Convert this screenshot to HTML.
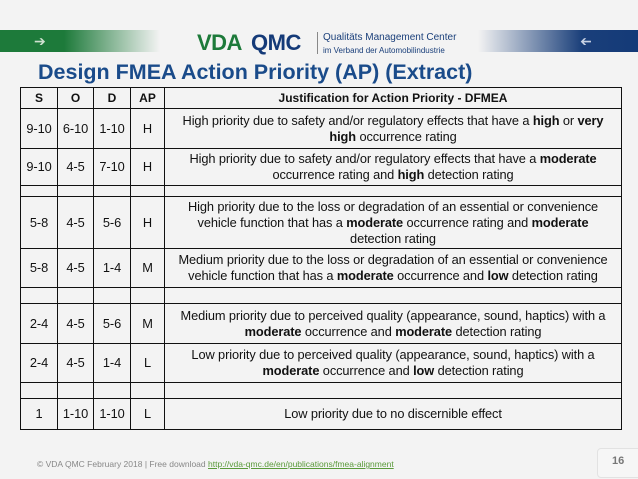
<!DOCTYPE html>
<html><head><meta charset="utf-8"><style>
body{margin:0;width:638px;height:479px;background:#f3f3f3;position:relative;overflow:hidden;font-family:"Liberation Sans",sans-serif}
.abs{position:absolute}
table{position:absolute;left:20px;top:87px;border-collapse:collapse;font-size:12.8px;color:#111;table-layout:fixed}
td{border:1px solid #111;text-align:center;padding:0 1px;line-height:16px;overflow:hidden;white-space:nowrap;letter-spacing:-0.1px}
th{border:1px solid #111;font-weight:bold;font-size:12px;height:20px;padding:0}
</style></head><body>
<div class="abs" style="left:0;top:30px;width:160px;height:22px;background:linear-gradient(90deg,#1d7a3a 0%,#1d7a3a 40%,#f3f3f3 100%)"></div>
<div class="abs" style="left:478px;top:30px;width:160px;height:22px;background:linear-gradient(90deg,#f3f3f3 0%,#1a3f7a 65%,#143a78 100%)"></div>
<div class="abs" style="left:34px;top:33px;color:#cfe0cf;font-size:14px">➔</div>
<div class="abs" style="left:580px;top:33px;color:#c8d2e4;font-size:14px;transform:scaleX(-1)">➔</div>
<div class="abs" style="left:197px;top:30px;font-weight:bold;font-size:22px;color:#1d7a3a;letter-spacing:-0.5px">VDA</div>
<div class="abs" style="left:251px;top:30px;font-weight:bold;font-size:22px;color:#143a78;letter-spacing:-0.5px">QMC</div>
<div class="abs" style="left:317px;top:32px;width:1px;height:22px;background:#888"></div>
<div class="abs" style="left:323px;top:31px;font-size:10px;color:#1a3f7a;line-height:13px">Qualitäts Management Center<br><span style="font-size:8px">im Verband der Automobilindustrie</span></div>
<div class="abs" style="left:38px;top:60px;font-size:21.5px;font-weight:bold;color:#1a4b8a">Design FMEA Action Priority (AP) (Extract)</div>
<table>
<colgroup><col style="width:37px"><col style="width:36px"><col style="width:37px"><col style="width:34px"><col style="width:457px"></colgroup>
<tr><th>S</th><th>O</th><th>D</th><th>AP</th><th>Justification for Action Priority - DFMEA</th></tr>
<tr style="height:40px"><td>9-10</td><td>6-10</td><td>1-10</td><td>H</td><td>High priority due to safety and/or regulatory effects that have a <b>high</b> or <b>very</b><br><b>high</b> occurrence rating</td></tr>
<tr style="height:37px"><td>9-10</td><td>4-5</td><td>7-10</td><td>H</td><td>High priority due to safety and/or regulatory effects that have a <b>moderate</b><br>occurrence rating and <b>high</b> detection rating</td></tr>
<tr style="height:11px"><td></td><td></td><td></td><td></td><td></td></tr>
<tr style="height:52px"><td>5-8</td><td>4-5</td><td>5-6</td><td>H</td><td>High priority due to the loss or degradation of an essential or convenience<br>vehicle function that has a <b>moderate</b> occurrence rating and <b>moderate</b><br>detection rating</td></tr>
<tr style="height:39px"><td>5-8</td><td>4-5</td><td>1-4</td><td>M</td><td>Medium priority due to the loss or degradation of an essential or convenience<br>vehicle function that has a <b>moderate</b> occurrence and <b>low</b> detection rating</td></tr>
<tr style="height:16px"><td></td><td></td><td></td><td></td><td></td></tr>
<tr style="height:40px"><td>2-4</td><td>4-5</td><td>5-6</td><td>M</td><td>Medium priority due to perceived quality (appearance, sound, haptics) with a<br><b>moderate</b> occurrence and <b>moderate</b> detection rating</td></tr>
<tr style="height:39px"><td>2-4</td><td>4-5</td><td>1-4</td><td>L</td><td>Low priority due to perceived quality (appearance, sound, haptics) with a<br><b>moderate</b> occurrence and <b>low</b> detection rating</td></tr>
<tr style="height:16px"><td></td><td></td><td></td><td></td><td></td></tr>
<tr style="height:31px"><td>1</td><td>1-10</td><td>1-10</td><td>L</td><td>Low priority due to no discernible effect</td></tr>
</table>
<div class="abs" style="left:37px;top:459px;font-size:8.5px;color:#888">© VDA QMC February 2018 | Free download <a style="color:#5a9a3a;text-decoration:underline">http://vda-qmc.de/en/publications/fmea-alignment</a></div>
<div class="abs" style="left:597px;top:448px;width:45px;height:28px;border:1px solid #e2e2e2;border-radius:4px;background:#f6f6f6;font-size:11px;font-weight:bold;color:#777;text-indent:14px;line-height:24px">16</div>
</body></html>
